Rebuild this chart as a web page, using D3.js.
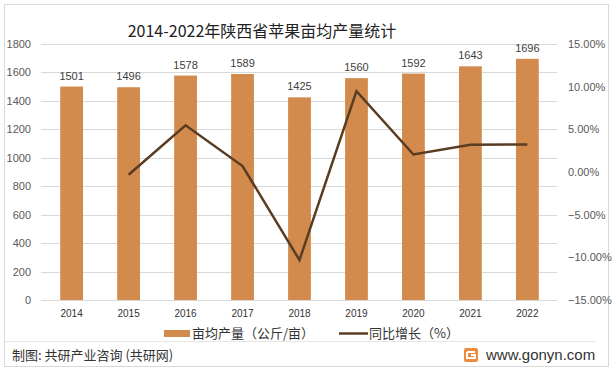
<!DOCTYPE html>
<html lang="zh">
<head>
  <meta charset="UTF-8">
  <title>2014-2022年陕西省苹果亩均产量统计</title>
  <style>
    * { margin: 0; padding: 0; box-sizing: border-box; }
    body { background: #fff; width: 614px; height: 371px; overflow: hidden; }
    svg { display: block; font-family: "Noto Sans CJK SC", "Microsoft YaHei", sans-serif; }
  </style>
  <script src="https://cdnjs.cloudflare.com/ajax/libs/d3/7.8.5/d3.min.js"></script>
</head>
<body>
  <svg id="chart" width="614" height="371"></svg>
  <script>
    const years = ['2014', '2015', '2016', '2017', '2018', '2019', '2020', '2021', '2022'];
    const yields = [1501, 1496, 1578, 1589, 1425, 1560, 1592, 1643, 1696];
    // 同比增长 (%), 2014 has no value
    const growth = [null, -0.33, 5.48, 0.70, -10.32, 9.47, 2.05, 3.20, 3.23];
    const leftTicks = [0, 200, 400, 600, 800, 1000, 1200, 1400, 1600, 1800];
    const rightTicks = [-15, -10, -5, 0, 5, 10, 15];

    const barColor = '#D38B4D';
    const lineColor = '#5A3C22';

    const svg = d3.select('#chart');
    const plot = { left: 42, right: 557, top: 44, bottom: 300 };

    // outer frame
    svg.append('rect')
      .attr('x', 4.5).attr('y', 4.5)
      .attr('width', 604).attr('height', 362)
      .attr('fill', 'none').attr('stroke', '#d9d9d9');

    // title
    svg.append('text')
      .attr('x', 262).attr('y', 37)
      .attr('text-anchor', 'middle')
      .attr('font-size', 16)
      .attr('fill', '#222')
      .text('2014-2022年陕西省苹果亩均产量统计');

    const x = d3.scaleBand().domain(years).range([plot.left, plot.right]).paddingInner(0.6).paddingOuter(0.32);
    const y = d3.scaleLinear().domain([0, 1800]).range([plot.bottom, plot.top]);
    const y2 = d3.scaleLinear().domain([-15, 15]).range([plot.bottom, plot.top]);

    // gridlines
    svg.append('g').selectAll('line')
      .data(leftTicks)
      .enter().append('line')
      .attr('x1', plot.left - 1).attr('x2', plot.right)
      .attr('y1', d => Math.round(y(d)) + 0.5).attr('y2', d => Math.round(y(d)) + 0.5)
      .attr('stroke', '#d9d9d9');

    // left axis labels
    svg.append('g').selectAll('text')
      .data(leftTicks)
      .enter().append('text')
      .attr('x', 31).attr('y', d => y(d) + 4)
      .attr('text-anchor', 'end')
      .attr('font-family', 'Liberation Sans, Arial, sans-serif')
      .attr('font-size', 11)
      .attr('fill', '#595959')
      .text(d => d);

    // right axis labels
    svg.append('g').selectAll('text')
      .data(rightTicks)
      .enter().append('text')
      .attr('x', 568).attr('y', d => y2(d) + 4)
      .attr('font-family', 'Liberation Sans, Arial, sans-serif')
      .attr('font-size', 11)
      .attr('fill', '#595959')
      .text(d => d3.format('.2f')(d) + '%');

    // bars
    svg.append('g').selectAll('rect')
      .data(years)
      .enter().append('rect')
      .attr('x', d => x(d))
      .attr('width', x.bandwidth())
      .attr('y', (d, i) => y(yields[i]))
      .attr('height', (d, i) => y(0) - y(yields[i]))
      .attr('fill', barColor);

    // bar labels
    svg.append('g').selectAll('text')
      .data(years)
      .enter().append('text')
      .attr('x', d => x(d) + x.bandwidth() / 2)
      .attr('y', (d, i) => y(yields[i]) - 7)
      .attr('text-anchor', 'middle')
      .attr('font-family', 'Liberation Sans, Arial, sans-serif')
      .attr('font-size', 11)
      .attr('fill', '#404040')
      .text((d, i) => yields[i]);

    // x labels
    svg.append('g').selectAll('text')
      .data(years)
      .enter().append('text')
      .attr('x', d => x(d) + x.bandwidth() / 2)
      .attr('y', 317)
      .attr('text-anchor', 'middle')
      .attr('font-family', 'Liberation Sans, Arial, sans-serif')
      .attr('font-size', 10)
      .attr('fill', '#333')
      .text(d => d);

    // growth line
    const line = d3.line()
      .defined(d => d.v !== null)
      .x(d => x(d.year) + x.bandwidth() / 2)
      .y(d => y2(d.v));

    svg.append('path')
      .datum(years.map((yr, i) => ({ year: yr, v: growth[i] })))
      .attr('d', line)
      .attr('fill', 'none')
      .attr('stroke', lineColor)
      .attr('stroke-width', 2.5)
      .attr('stroke-linejoin', 'miter');

    // legend
    const legend = svg.append('g').attr('font-size', 13).attr('fill', '#333');
    legend.append('rect').attr('x', 164).attr('y', 330).attr('width', 26).attr('height', 7).attr('fill', barColor);
    legend.append('text').attr('x', 192).attr('y', 338).text('亩均产量（公斤/亩）');
    legend.append('line').attr('x1', 339).attr('x2', 368).attr('y1', 333.5).attr('y2', 333.5)
      .attr('stroke', lineColor).attr('stroke-width', 2.5);
    legend.append('text').attr('x', 369).attr('y', 338).text('同比增长（%）');

    // footer
    svg.append('line')
      .attr('x1', 5).attr('x2', 596).attr('y1', 341.5).attr('y2', 341.5)
      .attr('stroke', '#e6e6e6');
    svg.append('text')
      .attr('x', 12).attr('y', 360)
      .attr('font-size', 13).attr('fill', '#333')
      .text('制图: 共研产业咨询 (共研网)');

    const logo = svg.append('g').attr('transform', 'translate(464,348)');
    logo.append('rect').attr('width', 14).attr('height', 14).attr('rx', 2).attr('fill', '#F08A3C');
    logo.append('path').attr('d', 'M3 4 H11 M3 4 V10 H11 V7 H7').attr('fill', 'none').attr('stroke', '#fff').attr('stroke-width', 2);
    svg.append('text')
      .attr('x', 486).attr('y', 360)
      .attr('font-family', 'Liberation Sans, Arial, sans-serif')
      .attr('font-size', 15).attr('fill', '#333')
      .text('www.gonyn.com');
  </script>
</body>
</html>
